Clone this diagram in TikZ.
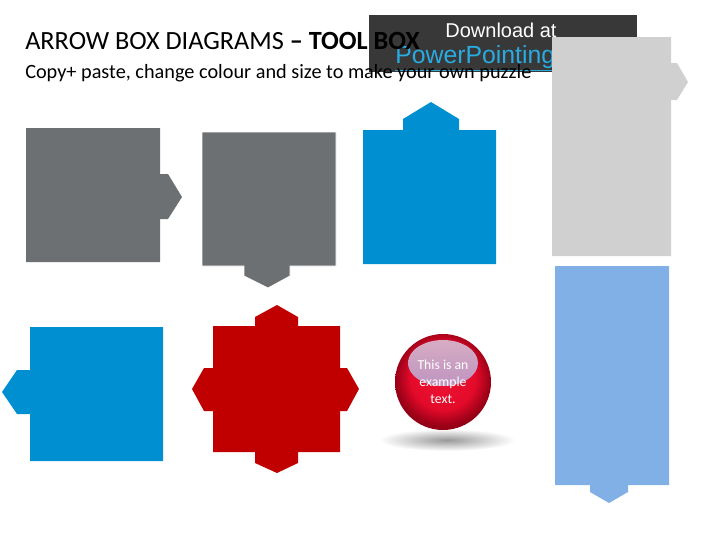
\documentclass[tikz,border=0pt]{standalone}
\usepackage{fontspec}
\setmainfont{Carlito}
\newfontfamily\arialfont{Liberation Sans}
\usetikzlibrary{positioning,shapes}

\definecolor{darkbox}{RGB}{109,112,115}
\definecolor{bluebox}{RGB}{0,143,208}
\definecolor{lightbox}{RGB}{208,208,208}
\definecolor{skybox}{RGB}{128,176,230}
\definecolor{redbox}{RGB}{192,0,0}
\definecolor{banner}{RGB}{56,56,56}
\definecolor{linkblue}{RGB}{41,171,226}

\pgfdeclareradialshading{redball}{\pgfpoint{0bp}{4bp}}{%
  color(0bp)=(rgb,255:red,238;green,22;blue,52);
  color(17bp)=(rgb,255:red,228;green,10;blue,42);
  color(25bp)=(rgb,255:red,150;green,0;blue,22);
  color(50bp)=(rgb,255:red,150;green,0;blue,22)}

\begin{document}
\begin{tikzpicture}[
        x=0.75pt, y=-0.75pt,
        headline/.style={anchor=base west, inner sep=0pt, font=\fontsize{19.7}{23}\selectfont},
        subline/.style={anchor=base west, inner sep=0pt, font=\fontsize{15.2}{18}\selectfont},
        balltext/.style={align=center, text=white, font=\fontsize{10.3}{12.7}\selectfont}
      ]
      \useasboundingbox (0,0) rectangle (728,546);

      % download banner
      \fill[banner] (369,15) rectangle (637,72);
      \node (dl) [anchor=base, inner sep=0pt, text=white, font=\arialfont\fontsize{15}{18}\selectfont] at (501,37) {Download at};
      \node (pp) [anchor=base west, inner sep=0pt, text=linkblue, font=\arialfont\fontsize{18.6}{22}\selectfont] at (395,63) {\underline{PowerPointing}};

      % headings
      \node (title) [headline] at (25,49) {ARROW BOX DIAGRAMS \textbf{– TOOL BOX}};
      \node (sub) [subline] at (25,78) {Copy+ paste, change colour and size to make your own puzzle};

      % top row
      \fill[darkbox] (26,128) -- (160,128) -- (160,174) -- (168,174) -- (182,197) -- (168,219)
        -- (160,219) -- (160,262) -- (26,262) -- cycle;
      \filldraw[darkbox, draw=white, line width=0.6pt] (202,132) -- (336,132) -- (336,266) -- (290,266)
        -- (290,276) -- (268,288) -- (244,276) -- (244,266) -- (202,266) -- cycle;
      \fill[bluebox] (363,130) -- (403,130) -- (403,119) -- (431,102) -- (459,119) -- (459,130)
        -- (496,130) -- (496,264) -- (363,264) -- cycle;
      \fill[lightbox] (552,37) -- (671,37) -- (671,63) -- (677,63) -- (688,82) -- (677,100)
        -- (671,100) -- (671,256) -- (552,256) -- cycle;

      % bottom row
      \fill[bluebox] (30,327) -- (163,327) -- (163,461) -- (30,461) -- (30,414) -- (17,414)
        -- (2,392) -- (17,370) -- (30,370) -- cycle;
      \fill[redbox] (213,326) -- (255,326) -- (255,317) -- (277,305) -- (298,317) -- (298,326)
        -- (340,326) -- (340,368) -- (347,368) -- (359,389) -- (347,411) -- (340,411)
        -- (340,452) -- (298,452) -- (298,463) -- (277,473) -- (255,463) -- (255,452)
        -- (213,452) -- (213,411) -- (204,411) -- (192,389) -- (204,368) -- (213,368) -- cycle;
      \fill[skybox] (555,266) -- (669,266) -- (669,485) -- (628,485) -- (628,492) -- (609,503)
        -- (590,492) -- (590,485) -- (555,485) -- cycle;

      % ball
      \shade[inner color=black!40, outer color=white] (447,440) ellipse [x radius=68, y radius=11];
      \shade[shading=redball] (443,382) circle [radius=48];
      \shade[top color={rgb,255:red,214;green,172;blue,196}, bottom color={rgb,255:red,190;green,148;blue,192}]
        (443,363) ellipse [x radius=35, y radius=23];
      \node (ball) [balltext] at (443,382) {This is an\\example\\text.};

    \end{tikzpicture}
\end{document}
